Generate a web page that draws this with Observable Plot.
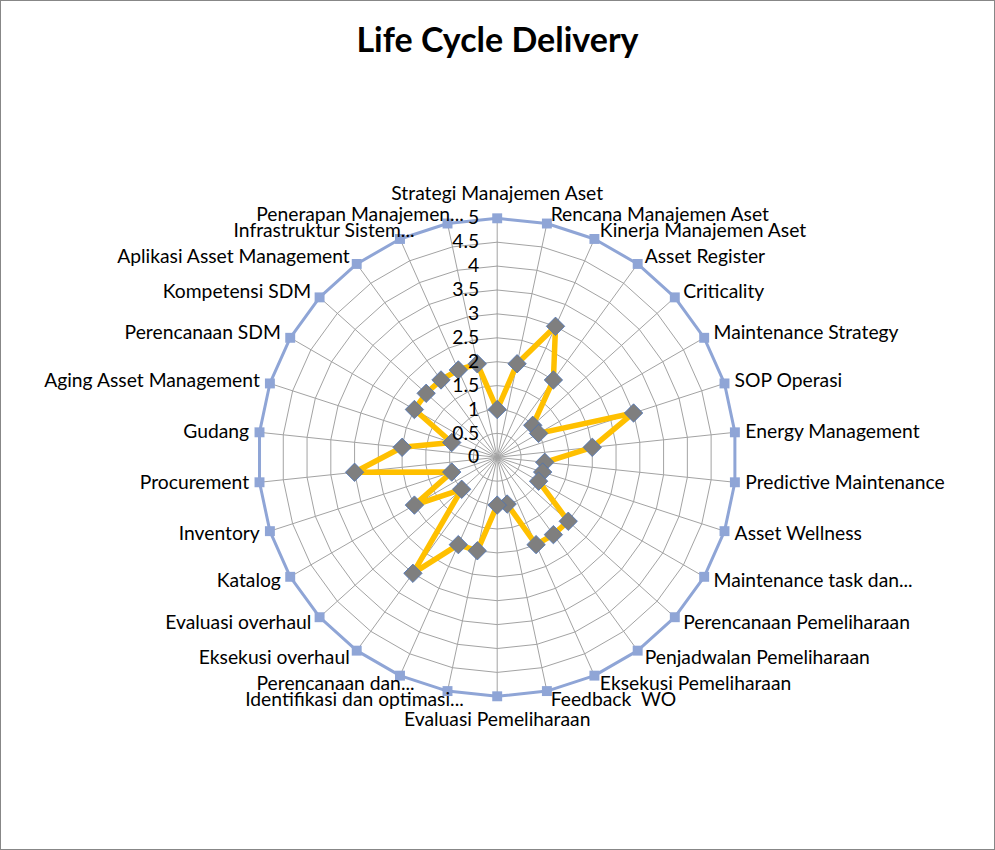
<!DOCTYPE html>
<html><head><meta charset="utf-8">
<script src="https://cdn.jsdelivr.net/npm/d3@7"></script>
<script src="https://cdn.jsdelivr.net/npm/@observablehq/plot@0.6"></script>
<style>
body{margin:0;background:#fff;}
#frame{width:995px;height:850px;box-sizing:border-box;border:1px solid #878787;position:relative;overflow:hidden;font-family:Lato,sans-serif;background:#fff;}
#title{position:absolute;left:0;right:0;top:18px;text-align:center;font-family:Lato,sans-serif;font-weight:bold;font-size:34px;line-height:40px;color:#000;}
#chart{position:absolute;left:0;top:80px;}
</style></head><body>
<div id="frame"><div id="title">Life Cycle Delivery</div><div id="chart"></div></div>
<script>
const categories = [
  "Strategi Manajemen Aset", "Rencana Manajemen Aset", "Kinerja Manajemen Aset", "Asset Register",
  "Criticality", "Maintenance Strategy", "SOP Operasi", "Energy Management", "Predictive Maintenance",
  "Asset Wellness", "Maintenance task dan...", "Perencanaan Pemeliharaan", "Penjadwalan Pemeliharaan",
  "Eksekusi Pemeliharaan", "Feedback  WO", "Evaluasi Pemeliharaan", "Identifikasi dan optimasi...",
  "Perencanaan dan...", "Eksekusi overhaul", "Evaluasi overhaul", "Katalog", "Inventory", "Procurement",
  "Gudang", "Aging Asset Management", "Perencanaan SDM", "Kompetensi SDM", "Aplikasi Asset Management",
  "Infrastruktur Sistem...", "Penerapan Manajemen..."
];
const scores = [1, 2, 3, 2, 1, 1, 3, 2, 1, 1, 1, 2, 2, 2, 1, 1, 2, 2, 3, 1, 2, 1, 3, 2, 1, 2, 2, 2, 2, 2];
const targets = [5, 5, 5, 5, 5, 5, 5, 5, 5, 5, 5, 5, 5, 5, 5, 5, 5, 5, 5, 5, 5, 5, 5, 5, 5, 5, 5, 5, 5, 5];
const tickValues = [0, 0.5, 1, 1.5, 2, 2.5, 3, 3.5, 4, 4.5, 5];
const tickLabels = ["0", "0.5", "1", "1.5", "2", "2.5", "3", "3.5", "4", "4.5", "5"];

const n = categories.length;
const maxV = 5;
const cx = 495.7, cy = 375.8, R = 239;
const k = R / maxV; // px per unit
const ang = i => i * 2 * Math.PI / n;
const pt = (v, i) => ({x: v * Math.sin(ang(i)), y: v * Math.cos(ang(i)), v, i});
const closed = arr => arr.concat([arr[0]]);

const scorePts = scores.map((v, i) => pt(v, i));
const targetPts = targets.map((v, i) => pt(v, i));

const rings = [];
tickValues.filter(v => v > 0).forEach(v => {
  for (let i = 0; i <= n; i++) rings.push({...pt(v, i % n), ring: v});
});

const labels = categories.map((c, i) => {
  const s = Math.sin(ang(i)), co = Math.cos(ang(i));
  let anchor, dxp, dyp;
  if (Math.abs(s) < 0.05) { anchor = "middle"; dxp = 0; dyp = -24 * co; }
  else {
    anchor = s > 0 ? "start" : "end";
    dxp = Math.sign(s) * (2 + 8.5 * Math.abs(s));
    dyp = -9 * co;
    if (s < 0 && c.endsWith("...") && Math.abs(s) < 0.5) dxp += 20;
  }
  return {text: c, anchor, x: maxV * s + dxp / k, y: maxV * co - dyp / k};
});

const font = "Lato, sans-serif";
const fs = 19.3;
const grid = "#a3a3a3";

const chart = Plot.plot({
  width: 993, height: 768,
  margin: 0,
  x: {domain: [-maxV, maxV], range: [cx - R, cx + R], axis: null},
  y: {domain: [-maxV, maxV], range: [cy + R, cy - R], axis: null},
  style: {fontFamily: font, background: "transparent", overflow: "visible"},
  marks: [
    Plot.line(rings, {x: "x", y: "y", z: "ring", stroke: grid, strokeWidth: 1}),
    Plot.link(targetPts, {x1: () => 0, y1: () => 0, x2: "x", y2: "y", stroke: grid, strokeWidth: 1}),
    Plot.line(closed(targetPts), {x: "x", y: "y", stroke: "#8FA5D6", strokeWidth: 3}),
    Plot.dot(targetPts, {x: "x", y: "y", symbol: "square", r: 5.6, fill: "#8FA5D6", stroke: "none"}),
    Plot.line(closed(scorePts), {x: "x", y: "y", stroke: "#FFC000", strokeWidth: 5.5, strokeLinejoin: "round"}),
    Plot.dot(scorePts, {x: "x", y: "y", symbol: "diamond2", r: 8.3, fill: "#7F7F7F", stroke: "#4A72B8", strokeWidth: 0.8}),
    Plot.text(tickValues, {x: () => 0, y: d => d, text: (d, i) => tickLabels[i], textAnchor: "end", dx: -18, fontSize: fs, fill: "#000", fontFamily: font}),
    Plot.text(labels.filter(d => d.anchor === "start"), {x: "x", y: "y", text: "text", textAnchor: "start", fontSize: fs, fill: "#000", fontFamily: font}),
    Plot.text(labels.filter(d => d.anchor === "end"), {x: "x", y: "y", text: "text", textAnchor: "end", fontSize: fs, fill: "#000", fontFamily: font}),
    Plot.text(labels.filter(d => d.anchor === "middle"), {x: "x", y: "y", text: "text", textAnchor: "middle", fontSize: fs, fill: "#000", fontFamily: font})
  ]
});
document.getElementById("chart").appendChild(chart);
</script>
</body></html>
